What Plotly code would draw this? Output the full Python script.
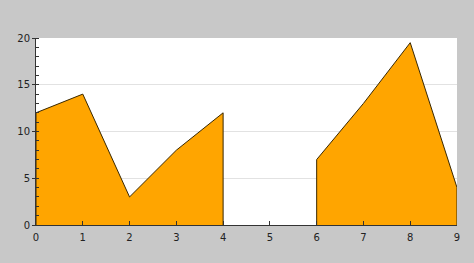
import plotly.graph_objects as go

x_vals = [0, 1, 2, 3, 4, 5, 6, 7, 8, 9]
y_vals = [12, 14, 3, 8, 12, None, 7, 13, 19.5, 4]
x_ticks = [0, 1, 2, 3, 4, 5, 6, 7, 8, 9]
y_ticks = [0, 5, 10, 15, 20]

# split into contiguous segments (gap where value is None)
segments = []
cur = []
for xv, yv in zip(x_vals, y_vals):
    if yv is None:
        if cur:
            segments.append(cur)
        cur = []
    else:
        cur.append((xv, yv))
if cur:
    segments.append(cur)

fig = go.Figure()
for seg in segments:
    xs = [seg[0][0]] + [p[0] for p in seg] + [seg[-1][0]]
    ys = [0] + [p[1] for p in seg] + [0]
    fig.add_trace(go.Scatter(
        x=xs, y=ys, mode="lines", fill="toself",
        fillcolor="#ffa500", line=dict(color="#3a2800", width=1),
        hoverinfo="skip", showlegend=False,
    ))

fig.update_layout(
    width=474, height=263,
    margin=dict(l=36, r=17, t=38, b=38),
    paper_bgcolor="#c8c8c8", plot_bgcolor="#ffffff",
    font=dict(family="DejaVu Sans", size=10, color="#222222"),
    showlegend=False,
)
fig.update_xaxes(
    range=[0, 9], tickvals=x_ticks, ticktext=[str(v) for v in x_ticks],
    showgrid=False, zeroline=False,
    showline=True, linecolor="#333333", linewidth=1,
    ticks="inside", ticklen=4, tickcolor="#333333", tickfont=dict(size=10),
    ticklabelstandoff=3,
)
fig.update_yaxes(
    range=[0, 20], tickvals=y_ticks, ticktext=[str(v) for v in y_ticks],
    showgrid=True, gridcolor="#e2e2e2", gridwidth=1, zeroline=False,
    showline=True, linecolor="#333333", linewidth=1,
    ticks="outside", ticklen=3, tickcolor="#333333",
    minor=dict(dtick=1, ticks="inside", ticklen=3, tickcolor="#333333", showgrid=False),
    tickfont=dict(size=10),
)
fig.write_html("out.html")
